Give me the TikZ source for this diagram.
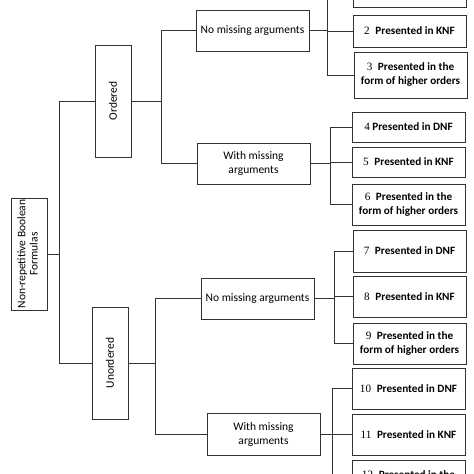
\documentclass[tikz,border=0pt]{standalone}
\usepackage{fontspec}
\setmainfont{Carlito}
\newfontfamily\numfont{Liberation Serif}
\usetikzlibrary{positioning}

\begin{document}
\begin{tikzpicture}[x=1pt, y=-1pt,
    tall/.style={rectangle, draw=black!80, line width=0.9pt, minimum width=36pt, minimum height=112pt, inner sep=0pt, font=\fontsize{11.5}{12.5}\selectfont},
    branch/.style={rectangle, draw=black!80, line width=0.9pt, minimum width=113pt, minimum height=41pt, align=center, inner sep=1pt, font=\fontsize{11.5}{14}\selectfont},
    leaf/.style={rectangle, draw=black!80, line width=0.9pt, minimum width=113pt, minimum height=41pt, align=center, inner sep=1pt, font=\fontsize{11.2}{14}\selectfont\bfseries},
    link/.style={draw=black!80, line width=0.9pt}
]
    \useasboundingbox (0,0) rectangle (474,474);
    \clip (0,0) rectangle (474,474);

    % Root and the two categories
    \node[tall] (root) at (29, 254) {\rotatebox{90}{\makebox[106pt]{\begin{tabular}{@{}c@{}}Non-repetitive Boolean\\Formulas\end{tabular}}}};
    \node[tall] (ord) at (113, 101) {\rotatebox{90}{Ordered}};
    \node[tall] (uno) at (110, 363) {\rotatebox{90}{Unordered}};

    % Argument branches
    \node[branch] (nmo) at (252.5, 30.5) {No missing arguments};
    \node[branch] (wmo) at (253.5, 163.5) {With missing\\arguments};
    \node[branch] (unm) at (257.5, 298.5) {No missing arguments};
    \node[branch, minimum height=42pt] (uwm) at (263.5, 434) {With missing\\arguments};

    % Ordered, no missing arguments (first box runs off the top)
    \node[leaf, minimum height=38pt] (l1) at (409.5, -12) {};
    \node[leaf, minimum height=32pt] (l2) at (409.5, 31) {{\numfont\mdseries 2}\enspace Presented in KNF};
    \node[leaf, minimum height=46pt] (l3) at (410.5, 75) {{\numfont\mdseries 3}\enspace Presented in the\\form of higher orders};

    % Ordered, with missing arguments
    \node[leaf, minimum height=30pt] (l4) at (408.5, 127) {{\numfont\mdseries 4} Presented in DNF};
    \node[leaf, minimum height=30pt] (l5) at (408.5, 162) {{\numfont\mdseries 5}\enspace Presented in KNF};
    \node[leaf] (l6) at (408.5, 204.5) {{\numfont\mdseries 6}\enspace Presented in the\\form of higher orders};

    % Unordered, no missing arguments
    \node[leaf, minimum height=42pt] (l7) at (409.5, 251) {{\numfont\mdseries 7}\enspace Presented in DNF};
    \node[leaf] (l8) at (409.5, 296.5) {{\numfont\mdseries 8}\enspace Presented in KNF};
    \node[leaf] (l9) at (409.5, 343.5) {{\numfont\mdseries 9}\enspace Presented in the\\form of higher orders};

    % Unordered, with missing arguments
    \node[leaf] (l10) at (408.5, 388.5) {{\numfont\mdseries 10}\enspace Presented in DNF};
    \node[leaf] (l11) at (408.5, 434.5) {{\numfont\mdseries 11}\enspace Presented in KNF};
    \node[leaf, minimum height=46pt] (l12) at (408.5, 483) {{\numfont\mdseries 12}\enspace Presented in the\\form of higher orders};

    % Root links
    \draw[link] (root.east) -- ++(12,0) |- (ord.west);
    \draw[link] (root.east) -- ++(12,0) |- (uno.west);

    % Category links
    \draw[link] (ord.east) -- ++(30,0) |- (nmo.west);
    \draw[link] (ord.east) -- ++(30,0) |- (wmo.west);
    \draw[link] (uno.east) -- ++(27,0) |- (unm.west);
    \draw[link] (uno.east) -- ++(27,0) |- (uwm.west);

    % Leaf links
    \draw[link] (nmo.east) -- ++(18,0) |- (l1.west);
    \draw[link] (nmo.east) -- ++(18,0) |- (l2.west);
    \draw[link] (nmo.east) -- ++(18,0) |- (l3.west);
    \draw[link] (wmo.east) -- ++(20,0) |- (l4.west);
    \draw[link] (wmo.east) -- ++(20,0) |- (l5.west);
    \draw[link] (wmo.east) -- ++(20,0) |- (l6.west);
    \draw[link] (unm.east) -- ++(20,0) |- (l7.west);
    \draw[link] (unm.east) -- ++(20,0) |- (l8.west);
    \draw[link] (unm.east) -- ++(20,0) |- (l9.west);
    \draw[link] (uwm.east) -- ++(12,0) |- (l10.west);
    \draw[link] (uwm.east) -- ++(12,0) |- (l11.west);
    \draw[link] (uwm.east) -- ++(12,0) |- (l12.west);

\end{tikzpicture}
\end{document}
